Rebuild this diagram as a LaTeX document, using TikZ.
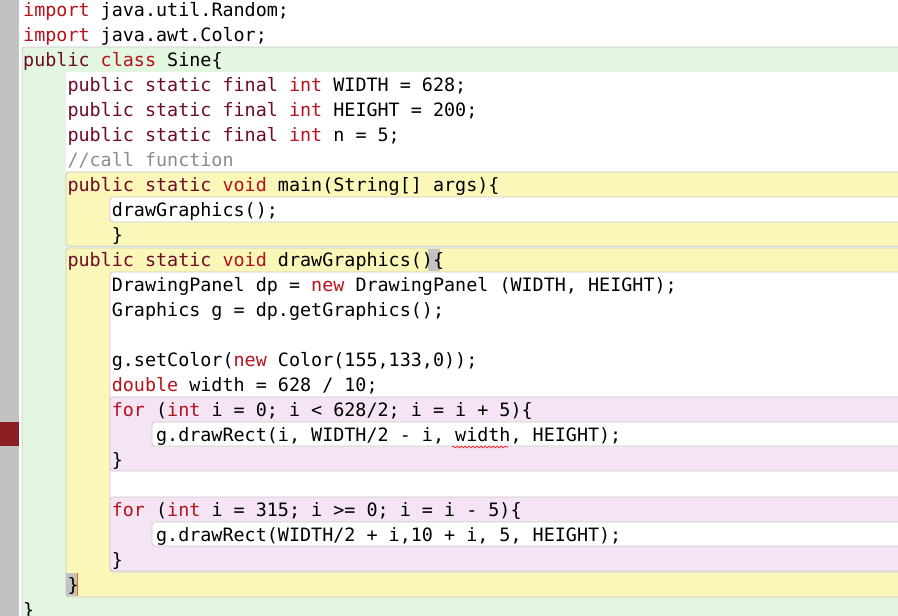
\documentclass[tikz,border=0pt]{standalone}
\usepackage{fontspec}
\newfontfamily\codefont{DejaVu Sans Mono}
\usetikzlibrary{decorations.pathmorphing}
\definecolor{gutter}{HTML}{C2C2C2}
\definecolor{marker}{HTML}{8A1E22}
\definecolor{classbg}{HTML}{E2F6E0}
\definecolor{methodbg}{HTML}{FBF7B8}
\definecolor{loopbg}{HTML}{F4E4F4}
\definecolor{scopeline}{HTML}{C8C8C8}
\definecolor{kwred}{HTML}{B5121B}
\definecolor{modred}{HTML}{6E0A2A}
\definecolor{commentgray}{HTML}{8C8C8C}
\newcommand{\kw}[1]{\textcolor{kwred}{#1}}
\newcommand{\md}[1]{\textcolor{modred}{#1}}
\tikzset{
  codeline/.style={anchor=base west, inner sep=0pt, font=\codefont\fontsize{18.4pt}{25pt}\selectfont},
  scopebox/.style={draw=scopeline, line width=0.8pt, rounded corners=3pt},
}

\begin{document}
\begin{tikzpicture}[x=1pt,y=-1pt]
    \useasboundingbox (0,0) rectangle (898,616);
    \fill[white] (0,0) rectangle (898,616);

    % gutter and breakpoint
    \fill[gutter] (0,0) rectangle (19,616);
    \fill[marker] (0,422) rectangle (19,446);

    % scopes
    \draw[scopebox, fill=classbg] (22,47) rectangle (905,630);
    \fill[white] (66,72) rectangle (898,172);
    \draw[scopebox, fill=methodbg] (66,172) rectangle (905,246);
    \draw[scopebox, fill=white] (110,197) rectangle (905,222);
    \draw[scopebox, fill=methodbg] (66,248) rectangle (905,597);
    \draw[scopebox, fill=white] (110,272) rectangle (905,572);
    \draw[scopebox, fill=loopbg] (110,397) rectangle (905,471);
    \draw[scopebox, fill=white] (152,422) rectangle (905,446);
    \draw[scopebox, fill=loopbg] (110,497) rectangle (905,571);
    \draw[scopebox, fill=white] (152,522) rectangle (905,546);

    % bracket match and cursor
    \fill[gutter] (428,249) rectangle (440,271);
    \fill[gutter] (66,573) rectangle (77,596);
    \draw[orange!80!red, line width=1pt] (77,573) -- (77,596);

    % code
    \foreach \k/\ind/\txt in {
      0/0/{\kw{import} java.util.Random;},
      1/0/{\kw{import} java.awt.Color;},
      2/0/{\md{public} \kw{class} Sine\{},
      3/1/{\md{public static final} \kw{int} WIDTH = 628;},
      4/1/{\md{public static final} \kw{int} HEIGHT = 200;},
      5/1/{\md{public static final} \kw{int} n = 5;},
      6/1/{\textcolor{commentgray}{//call function}},
      7/1/{\md{public static} \kw{void} main(String[] args)\{},
      8/2/{drawGraphics();},
      9/2/{\}},
      10/1/{\md{public static} \kw{void} drawGraphics()\{},
      11/2/{DrawingPanel dp = \kw{new} DrawingPanel (WIDTH, HEIGHT);},
      12/2/{Graphics g = dp.getGraphics();},
      14/2/{g.setColor(\kw{new} Color(155,133,0));},
      15/2/{\kw{double} width = 628 / 10;},
      16/2/{\kw{for} (\kw{int} i = 0; i < 628/2; i = i + 5)\{},
      17/3/{g.drawRect(i, WIDTH/2 - i, width, HEIGHT);},
      18/2/{\}},
      20/2/{\kw{for} (\kw{int} i = 315; i >= 0; i = i - 5)\{},
      21/3/{g.drawRect(WIDTH/2 + i,10 + i, 5, HEIGHT);},
      22/2/{\}},
      23/1/{\}},
      24/0/{\}}}
      \node[codeline] (l\k) at (23+44.3*\ind, 16+25*\k) {\txt};

    % spelling mark
    \coordinate (sqa) at (452,447);
    \coordinate (sqb) at (508,447);
    \draw[red, line width=0.6pt, decorate, decoration={snake, amplitude=1pt, segment length=4pt}] (sqa) -- (sqb);
\end{tikzpicture}
\end{document}
